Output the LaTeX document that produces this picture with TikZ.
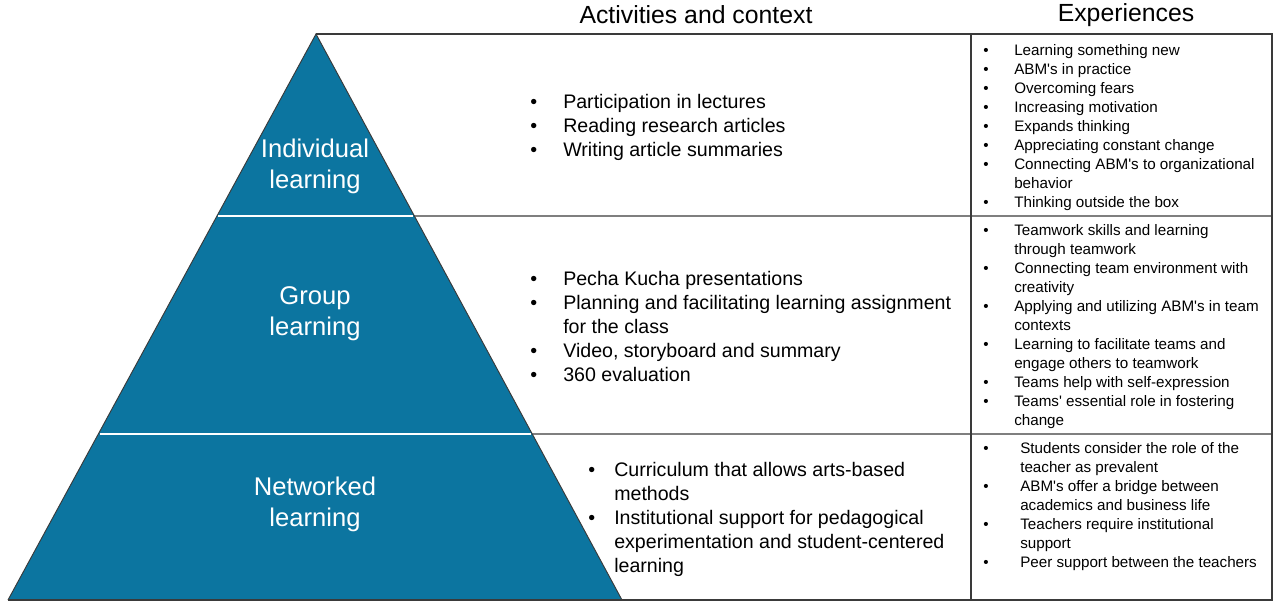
\documentclass[tikz,border=0pt]{standalone}
\usepackage{fontspec}
\setmainfont{Liberation Sans}[Ligatures=TeXOff]
\usepackage{tikz}
\usetikzlibrary{calc}
\definecolor{pyramidblue}{HTML}{0C75A0}
\definecolor{tablegray}{HTML}{3A3A3A}

\begin{document}
\begin{tikzpicture}[
    x=0.75pt, y=-0.75pt, every node/.style={inner sep=0pt},
    head/.style={font=\fontsize{18.6}{22}\selectfont},
    level/.style={text=white, align=center, font=\fontsize{19.2}{23.25}\selectfont},
    acts/.style={anchor=west, font=\fontsize{14.7}{18}\selectfont},
    exps/.style={anchor=west, font=\fontsize{11.4}{14.25}\selectfont},
    rule/.style={draw=tablegray, line width=0.9pt}
]
\useasboundingbox (0,0) rectangle (1280,613);

% pyramid corners and table corners
\coordinate (apex) at (316,34);
\coordinate (base_left) at (8,600);
\coordinate (base_right) at (622,600);
\coordinate (table_tr) at (1272,34);
\coordinate (table_br) at (1272,600);
\coordinate (split_top) at (971,34);
\coordinate (split_bottom) at (971,600);
\coordinate (row1_left) at ($(apex)!182/566!(base_right)$);
\coordinate (row2_left) at ($(apex)!400/566!(base_right)$);
\coordinate (row1_inner) at ($(apex)!182/566!(base_left)$);
\coordinate (row2_inner) at ($(apex)!400/566!(base_left)$);
\coordinate (row1_right) at (1272,216);
\coordinate (row2_right) at (1272,434);

\fill[pyramidblue] (apex) -- (base_right) -- (base_left) -- cycle;
\draw[white, line width=1.5pt] ([xshift=1]row1_inner) -- ([xshift=-1]row1_left);
\draw[white, line width=1.5pt] ([xshift=1]row2_inner) -- ([xshift=-1]row2_left);
\draw[tablegray, line width=0.7pt] (base_left) -- (apex) -- (base_right);

\draw[rule] (apex) -- (table_tr) -- (table_br) -- (base_left);
\draw[rule] (row1_left) -- (row1_right);
\draw[rule] (row2_left) -- (row2_right);
\draw[rule] (split_top) -- (split_bottom);

\node[head] (acts_head) at (696,15) {Activities and context};
\node[head] (exps_head) at (1126,15) {Experiences};

\node[level] (individual) at (315,166) {Individual\\learning};
\node[level] (group) at (315,314) {Group\\learning};
\node[level] (networked) at (315,504) {Networked\\learning};

\node[acts] (individual_acts) at (530,128) {\begin{tabular}{@{}p{24.75pt}@{}l@{}}
\textbullet & Participation in lectures\\
\textbullet & Reading research articles\\
\textbullet & Writing article summaries
\end{tabular}};
\node[acts] (group_acts) at (530,329) {\begin{tabular}{@{}p{24.75pt}@{}l@{}}
\textbullet & Pecha Kucha presentations\\
\textbullet & Planning and facilitating learning assignment\\
 & for the class\\
\textbullet & Video, storyboard and summary\\
\textbullet & 360 evaluation
\end{tabular}};
\node[acts] (networked_acts) at (588,520) {\begin{tabular}{@{}p{19.5pt}@{}l@{}}
\textbullet & Curriculum that allows arts-based\\
 & methods\\
\textbullet & Institutional support for pedagogical\\
 & experimentation and student-centered\\
 & learning
\end{tabular}};

\node[exps] (individual_exps) at (983,127.5) {\begin{tabular}{@{}p{23.25pt}@{}l@{}}
\textbullet & Learning something new\\
\textbullet & ABM's in practice\\
\textbullet & Overcoming fears\\
\textbullet & Increasing motivation\\
\textbullet & Expands thinking\\
\textbullet & Appreciating constant change\\
\textbullet & Connecting ABM's to organizational\\
 & behavior\\
\textbullet & Thinking outside the box
\end{tabular}};
\node[exps] (group_exps) at (983,327) {\begin{tabular}{@{}p{23.25pt}@{}l@{}}
\textbullet & Teamwork skills and learning\\
 & through teamwork\\
\textbullet & Connecting team environment with\\
 & creativity\\
\textbullet & Applying and utilizing ABM's in team\\
 & contexts\\
\textbullet & Learning to facilitate teams and\\
 & engage others to teamwork\\
\textbullet & Teams help with self-expression\\
\textbullet & Teams' essential role in fostering\\
 & change
\end{tabular}};
\node[exps] (networked_exps) at (983,507) {\begin{tabular}{@{}p{27.75pt}@{}l@{}}
\textbullet & Students consider the role of the\\
 & teacher as prevalent\\
\textbullet & ABM's offer a bridge between\\
 & academics and business life\\
\textbullet & Teachers require institutional\\
 & support\\
\textbullet & Peer support between the teachers
\end{tabular}};
\end{tikzpicture}
\end{document}
